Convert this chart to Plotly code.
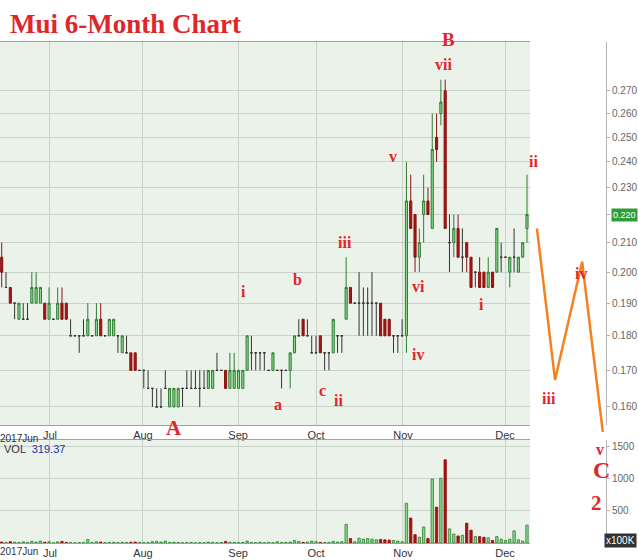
import math
import plotly.graph_objects as go

# daily candles, oldest first (prices in $)
opn = [.205, .195, .195, .19, .185, .185, .185, .19, .19, .19, .19, .185, .185, .185, .19, .19, .18, .18, .18, .18,
       .18, .18, .18, .185, .18, .18, .18, .18, .175, .175, .175, .175, .17, .17, .165, .165, .16, .16, .165, .16,
       .16, .16, .165, .165, .165, .165, .165, .165, .165, .165, .17, .17, .17, .165, .165, .165, .165, .17, .175, .175,
       .175, .175, .17, .17, .17, .17, .17, .17, .175, .18, .185, .18, .175, .175, .18, .175, .175, .175, .18, .18,
       .185, .195, .19, .19, .19, .19, .19, .19, .19, .185, .185, .18, .18, .18, .18, .225, .22, .205, .22, .225,
       .215, .25, .26, .27, .21, .21, .215, .205, .21, .205, .20, .20, .20, .195, .20, .20, .205, .205, .20, .205,
       .20, .205, .215]
high = [.21, .20, .195, .19, .19, .19, .19, .20, .20, .195, .19, .195, .185, .195, .195, .19, .185, .18, .18, .185,
        .19, .18, .19, .19, .18, .185, .185, .18, .18, .18, .175, .175, .17, .17, .17, .165, .165, .165, .17, .165,
        .165, .165, .165, .17, .17, .17, .17, .17, .17, .17, .175, .17, .17, .175, .175, .17, .17, .18, .18, .175,
        .175, .175, .17, .175, .17, .17, .17, .175, .18, .185, .185, .185, .18, .18, .18, .175, .175, .185, .18, .18,
        .205, .195, .19, .20, .195, .195, .20, .19, .19, .185, .185, .18, .18, .185, .24, .235, .22, .215, .235, .23,
        .26, .26, .275, .275, .22, .22, .22, .215, .21, .205, .20, .205, .20, .205, .20, .215, .21, .205, .205, .215,
        .205, .21, .235]
low = [.195, .195, .19, .185, .185, .185, .185, .19, .19, .19, .185, .185, .185, .185, .185, .185, .18, .18, .175, .18,
       .18, .18, .18, .18, .18, .18, .18, .175, .175, .175, .17, .17, .17, .165, .165, .16, .16, .16, .165, .16,
       .16, .16, .16, .165, .165, .165, .16, .165, .165, .165, .17, .17, .165, .165, .165, .165, .165, .17, .17, .17,
       .17, .17, .17, .17, .17, .165, .17, .165, .175, .18, .18, .18, .175, .175, .175, .17, .17, .175, .175, .175,
       .185, .19, .19, .18, .18, .18, .18, .18, .18, .18, .18, .175, .175, .18, .175, .215, .20, .20, .21, .22,
       .215, .24, .255, .215, .20, .205, .205, .20, .20, .195, .195, .195, .195, .195, .195, .20, .20, .205, .195, .20,
       .20, .205, .21]
close = [.20, .195, .19, .19, .19, .185, .185, .195, .195, .195, .185, .19, .185, .19, .185, .185, .18, .18, .18, .18,
         .185, .18, .185, .18, .18, .185, .185, .18, .18, .175, .17, .17, .17, .17, .165, .165, .16, .16, .165, .165,
         .165, .165, .165, .165, .165, .165, .165, .165, .17, .17, .17, .17, .165, .17, .17, .17, .17, .18, .175, .175,
         .175, .175, .17, .175, .17, .17, .17, .175, .18, .18, .18, .18, .175, .175, .175, .175, .175, .185, .18, .18,
         .195, .19, .19, .19, .19, .19, .19, .19, .18, .18, .18, .18, .18, .18, .225, .215, .205, .21, .225, .22,
         .245, .245, .265, .215, .21, .215, .205, .205, .205, .195, .20, .195, .195, .20, .195, .215, .205, .205, .205, .205,
         .205, .21, .22]
# volume in units of 100K shares
volume = [15, 10, 20, 12, 8, 18, 10, 25, 15, 30, 12, 20, 5, 18, 25, 10, 8, 5, 6, 10,
          55, 8, 20, 15, 5, 10, 12, 6, 10, 8, 12, 15, 10, 5, 8, 20, 25, 15, 30, 10,
          12, 8, 5, 6, 10, 4, 8, 5, 15, 10, 5, 8, 25, 12, 10, 8, 10, 30, 10, 8,
          12, 6, 10, 5, 20, 8, 10, 15, 40, 25, 10, 15, 30, 20, 10, 8, 10, 25, 15, 20,
          290, 70, 20, 75, 60, 70, 60, 50, 55, 50, 45, 40, 30, 20, 620, 390, 130, 90, 250, 70,
          1000, 560, 1010, 1300, 220, 140, 110, 120, 310, 200, 100, 100, 90, 80, 40, 100, 60, 40, 60, 190,
          50, 30, 280]
last_vol = "319.37"
month_idx = [11.2, 32.8, 54.9, 73.0, 93.2, 116.9]
month_lbl = ["Jul", "Aug", "Sep", "Oct", "Nov", "Dec"]
price_ticks = [0.16, 0.17, 0.18, 0.19, 0.20, 0.21, 0.22, 0.23, 0.24, 0.25, 0.26, 0.27]
vol_ticks = [500, 1000, 1500]
last_price = 0.22
# projected wave path (iii, iv, v)
proj_idx = [124.3, 128.5, 134.8, 139.6]
proj_price = [0.215, 0.1673, 0.2035, 0.1535]

idx = list(range(len(close)))
W, H = 638, 560
RED = "#e0262b"
GRID = "#c9d2c9"
BG = "#eaf2ea"
SERIF = "Liberation Serif, DejaVu Serif, serif"

fig = go.Figure()
moved = [i for i in idx if opn[i] != close[i]]
flat = [i for i in idx if opn[i] == close[i]]
for sel, up, upfill, dn, dnfill in [(moved, "#2f7d32", "#8bd88b", "#8e1010", "#a51515"),
                                    (flat, "#333333", "#333333", "#333333", "#333333")]:
    fig.add_trace(go.Candlestick(
        x=sel, open=[opn[i] for i in sel], high=[high[i] for i in sel],
        low=[low[i] for i in sel], close=[close[i] for i in sel],
        increasing=dict(line=dict(color=up, width=1), fillcolor=upfill),
        decreasing=dict(line=dict(color=dn, width=1), fillcolor=dnfill),
        whiskerwidth=0, showlegend=False, xaxis="x", yaxis="y"))
bar_col = ["#8bd88b" if c >= o else "#a51515" for o, c in zip(opn, close)]
bar_line = ["#2f7d32" if c >= o else "#8e1010" for o, c in zip(opn, close)]
fig.add_trace(go.Bar(x=idx, y=volume, marker=dict(color=bar_col, line=dict(color=bar_line, width=0.8)),
                     width=0.55, showlegend=False, xaxis="x2", yaxis="y2"))
fig.add_trace(go.Scatter(x=proj_idx, y=proj_price, mode="lines", line=dict(color="#f5821f", width=2.5),
                         showlegend=False, xaxis="x3", yaxis="y3", hoverinfo="skip"))

xdom = [0, 530 / W]
xr = [-0.395, 122.7]
ax_x = dict(domain=xdom, range=xr, tickvals=month_idx, ticktext=month_lbl, showgrid=True, gridcolor=GRID,
            ticks="", tickfont=dict(family="Arial, Liberation Sans", size=11, color="#333"),
            showline=True, linecolor="#9aa39a", mirror=True, zeroline=False, fixedrange=True)
yfont = dict(family="Arial, Liberation Sans", size=10, color="#666")
fig.update_layout(
    width=W, height=H, margin=dict(l=0, r=0, t=0, b=0),
    paper_bgcolor="white", plot_bgcolor="rgba(0,0,0,0)",
    xaxis=dict(ax_x, anchor="y", rangeslider=dict(visible=False)),
    xaxis2=dict(ax_x, anchor="y2"),
    xaxis3=dict(domain=[0, 1], range=[-0.395, 147.77], visible=False, anchor="y3"),
    yaxis=dict(domain=[1 - 425 / H, 1 - 42 / H], type="log",
               range=[math.log10(0.1553), math.log10(0.2927)],
               tickvals=price_ticks, ticktext=["%.3f" % v for v in price_ticks],
               anchor="free", position=606 / W, side="right", showline=True, linecolor="#b5b5b5",
               gridcolor=GRID, ticks="outside", ticklen=3, tickcolor="#b5b5b5", tickfont=yfont, zeroline=False),
    yaxis2=dict(domain=[1 - 543 / H, 1 - 440 / H], range=[0, 1609], tickvals=vol_ticks,
                anchor="free", position=606 / W, side="right", showline=True, linecolor="#b5b5b5",
                gridcolor=GRID, ticks="outside", ticklen=3, tickcolor="#b5b5b5", tickfont=yfont, zeroline=False),
    yaxis3=dict(domain=[0, 1], type="log", range=[math.log10(0.1242), math.log10(0.3137)],
                visible=False, anchor="x3"),
    bargap=0.4,
)
# panel backgrounds
for xa, ya in [("x", "y"), ("x2", "y2")]:
    fig.add_shape(type="rect", xref=xa + " domain", yref=ya + " domain", x0=0, x1=1, y0=0, y1=1,
                  fillcolor=BG, line_width=0, layer="below")


def note(s, px, py, size, color=RED, font=SERIF, xanchor="center", **kw):
    fig.add_annotation(text=s, x=px / W, y=1 - py / H, xref="paper", yref="paper", showarrow=False,
                       font=dict(family=font, size=size, color=color), xanchor=xanchor, yanchor="middle", **kw)


note("<b>Mui 6-Month Chart</b>", 8, 24, 27, xanchor="left")
for s, px, py, sz in [("B", 449, 40, 19), ("vii", 443, 64, 16), ("v", 393, 156, 16), ("ii", 533, 161, 16),
                      ("iii", 345, 242, 16), ("i", 243, 291, 16), ("b", 297, 279, 16), ("vi", 418, 286, 16),
                      ("i", 482, 304, 16), ("iv", 418, 354, 16), ("a", 278, 404, 16), ("c", 322, 390, 16),
                      ("ii", 338, 400, 16), ("A", 174, 428, 21), ("iii", 549, 398, 16), ("iv", 581, 273, 16),
                      ("v", 600, 449, 16), ("C", 601, 470, 24), ("2", 596, 503, 21)]:
    note("<b>%s</b>" % s, px, py, sz)

fig.add_annotation(text="0.220", x=611 / W, y=math.log10(last_price), xref="paper", yref="y", showarrow=False,
                   xanchor="left", yanchor="middle", bgcolor="#2e9e3a",
                   font=dict(family="Arial", size=9, color="white"), borderpad=1)
for py in (438, 551):
    note("2017Jun", -2, py, 10, color="#333", font="Arial", xanchor="left")
note("VOL  <span style='color:#2233aa'>%s</span>" % last_vol, 2, 449, 11,
     color="#333", font="Arial", xanchor="left")
note("x100K", 637, 540, 10, color="white", font="Arial", xanchor="right", bgcolor="#333")

fig.write_html("out.html", config={"displayModeBar": False})
with open("out.html") as f:
    page = f.read()
with open("out.html", "w") as f:
    f.write(page.replace("<body>", "<body style='margin:0'>", 1))
